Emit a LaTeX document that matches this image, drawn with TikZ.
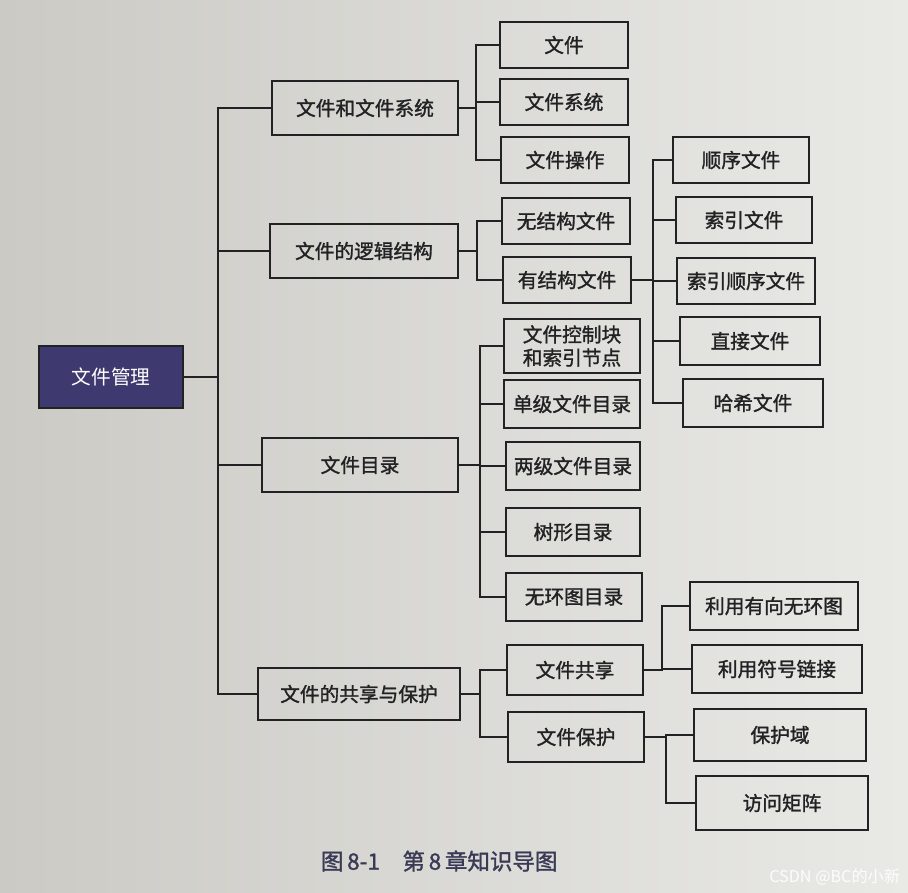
\documentclass[tikz,border=0pt]{standalone}
\usepackage{fontspec}
\newfontfamily\cjk{Noto Sans CJK SC}[FakeBold=1.4]
\newfontfamily\cjkthin{Noto Sans CJK SC}
\usepackage{xcolor}
\usepackage{tikz}
\usetikzlibrary{positioning}
\definecolor{paperleft}{RGB}{203,202,197}
\definecolor{paperright}{RGB}{233,233,230}
\definecolor{rootcolor}{RGB}{62,58,112}
\definecolor{inkcolor}{RGB}{34,34,36}
\definecolor{captioncolor}{RGB}{58,58,86}

\begin{document}
\begin{tikzpicture}[x=0.025cm, y=-0.025cm,
    box/.style={draw=inkcolor, line width=1.4pt, minimum height=1.18cm, inner sep=1pt, align=center,
      text=inkcolor, font=\cjk\fontsize{14}{16.5}\selectfont},
    link/.style={draw=inkcolor, line width=1.4pt, line cap=rect}]
  \shade[left color=paperleft, right color=paperright] (0,0) rectangle (908,893);
  \useasboundingbox (0,0) rectangle (908,893);

  % root and first level
  \node[box, fill=rootcolor, text=white, font=\cjkthin\fontsize{14}{16.5}\selectfont, minimum width=3.58cm, minimum height=1.53cm] (root) at (111,377) {文件管理};
  \node[box, minimum width=4.65cm, minimum height=1.33cm] (sys) at (365,108) {文件和文件系统};
  \node[box, minimum width=4.7cm, minimum height=1.33cm] (logic) at (364,251) {文件的逻辑结构};
  \node[box, minimum width=4.88cm, minimum height=1.35cm] (dir) at (360,465) {文件目录};
  \node[box, minimum width=5.05cm, minimum height=1.3cm] (share) at (359,694) {文件的共享与保护};

  % second level
  \node[box, minimum width=3.2cm, minimum height=1.15cm] (file) at (564,45) {文件};
  \node[box, minimum width=3.2cm, minimum height=1.15cm] (fsys) at (564,102) {文件系统};
  \node[box, minimum width=3.2cm, minimum height=1.15cm] (fop) at (565,160) {文件操作};

  \node[box, minimum width=3.2cm, minimum height=1.15cm] (nostr) at (566,221) {无结构文件};
  \node[box, minimum width=3.22cm, minimum height=1.15cm] (str) at (567,280) {有结构文件};

  \node[box, minimum width=3.38cm, minimum height=1.33cm] (fcb) at (572,346) {文件控制块\\和索引节点};
  \node[box, minimum width=3.42cm, minimum height=1.2cm] (single) at (572,404) {单级文件目录};
  \node[box, minimum width=3.35cm, minimum height=1.2cm] (two) at (573,466) {两级文件目录};
  \node[box, minimum width=3.35cm, minimum height=1.2cm] (tree) at (573,532) {树形目录};
  \node[box, minimum width=3.38cm, minimum height=1.22cm] (acyc) at (574,597) {无环图目录};

  \node[box, minimum width=3.38cm, minimum height=1.25cm] (fshare) at (575,670) {文件共享};
  \node[box, minimum width=3.42cm, minimum height=1.25cm] (fprot) at (576,737) {文件保护};

  % third level
  \node[box, minimum width=3.4cm, minimum height=1.15cm] (seq) at (741,160) {顺序文件};
  \node[box, minimum width=3.42cm, minimum height=1.15cm] (idx) at (744,220) {索引文件};
  \node[box, minimum width=3.45cm, minimum height=1.15cm] (idxseq) at (746,281) {索引顺序文件};
  \node[box, minimum width=3.5cm, minimum height=1.18cm] (direct) at (750,341) {直接文件};
  \node[box, minimum width=3.5cm, minimum height=1.18cm] (hash) at (753,403) {哈希文件};

  \node[box, minimum width=4.2cm, minimum height=1.2cm] (dag) at (774,606) {利用有向无环图};
  \node[box, minimum width=4.25cm, minimum height=1.2cm] (symlink) at (777,669) {利用符号链接};
  \node[box, minimum width=4.3cm, minimum height=1.3cm] (domain) at (780,735) {保护域};
  \node[box, minimum width=4.28cm, minimum height=1.37cm] (matrix) at (782,803) {访问矩阵};

  % buses
  \coordinate (t0) at (218,0);
  \coordinate (t1) at (476,0);
  \coordinate (t2) at (477,0);
  \coordinate (t3) at (653,0);
  \coordinate (t4) at (480,0);
  \coordinate (t5) at (480,0);
  \coordinate (t6) at (662,0);
  \coordinate (t7) at (666,0);

  \draw[link] (root.east) -- (root.east -| t0);
  \draw[link] (t0 |- sys.west) -- (t0 |- share.west);
  \foreach \c in {sys,logic,dir,share} \draw[link] (t0 |- \c.west) -- (\c.west);

  \draw[link] (sys.east) -- (sys.east -| t1);
  \draw[link] (t1 |- file.west) -- (t1 |- fop.west);
  \foreach \c in {file,fsys,fop} \draw[link] (t1 |- \c.west) -- (\c.west);

  \draw[link] (logic.east) -- (logic.east -| t2);
  \draw[link] (t2 |- nostr.west) -- (t2 |- str.west);
  \foreach \c in {nostr,str} \draw[link] (t2 |- \c.west) -- (\c.west);

  \draw[link] (str.east) -- (str.east -| t3);
  \draw[link] (t3 |- seq.west) -- (t3 |- hash.west);
  \foreach \c in {seq,idx,idxseq,direct,hash} \draw[link] (t3 |- \c.west) -- (\c.west);

  \draw[link] (dir.east) -- (dir.east -| t4);
  \draw[link] (t4 |- fcb.west) -- (t4 |- acyc.west);
  \foreach \c in {fcb,single,two,tree,acyc} \draw[link] (t4 |- \c.west) -- (\c.west);

  \draw[link] (share.east) -- (share.east -| t5);
  \draw[link] (t5 |- fshare.west) -- (t5 |- fprot.west);
  \foreach \c in {fshare,fprot} \draw[link] (t5 |- \c.west) -- (\c.west);

  \draw[link] (fshare.east) -- (fshare.east -| t6);
  \draw[link] (t6 |- dag.west) -- (t6 |- symlink.west);
  \foreach \c in {dag,symlink} \draw[link] (t6 |- \c.west) -- (\c.west);

  \draw[link] (fprot.east) -- (fprot.east -| t7);
  \draw[link] (t7 |- domain.west) -- (t7 |- matrix.west);
  \foreach \c in {domain,matrix} \draw[link] (t7 |- \c.west) -- (\c.west);

  % caption and mark
  \node[anchor=west, text=captioncolor, font=\cjk\fontsize{16}{18}\selectfont] (caption) at (316,861) {图\,8-1\quad 第\,8\,章知识导图};
  \node[anchor=east, text=white, opacity=0.9, font=\cjkthin\fontsize{11.5}{13}\selectfont] (mark) at (905,877) {CSDN @BC的小新};
\end{tikzpicture}
\end{document}
